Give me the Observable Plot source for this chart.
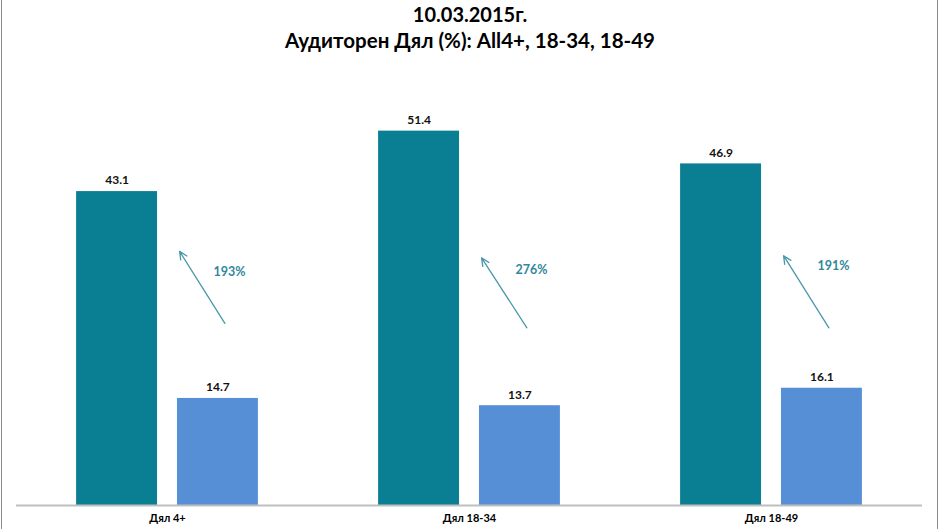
<!DOCTYPE html>
<html>
<head>
<meta charset="utf-8">
<script src="https://cdn.jsdelivr.net/npm/d3@7"></script>
<script src="https://cdn.jsdelivr.net/npm/@observablehq/plot@0.6"></script>
<style>
  html, body { margin: 0; padding: 0; background: #fff; }
  #wrap { position: relative; width: 940px; height: 529px; overflow: hidden; font-family: Lato, "Open Sans", sans-serif; }
  #title { position: absolute; left: 0; top: 0; width: 940px; height: 60px; text-align: center; font-weight: bold; color: #000; }
  #title .l1 { position: absolute; left: 0; right: 0; top: 2px; font-size: 20px; line-height: 24px; }
  #title .l2 { position: absolute; left: 0; right: 0; top: 28px; font-size: 20.5px; line-height: 24px; }
  #chart { position: absolute; left: 0; top: 60px; }
  .bl { position: absolute; top: 0; height: 529px; width: 1px; background: #8c8c8c; }
</style>
</head>
<body>
<div id="wrap">
  <div class="bl" style="left:1px"></div>
  <div class="bl" style="left:937px"></div>
  <div id="title"><div class="l1">10.03.2015г.</div><div class="l2">Аудиторен Дял (%): All4+, 18-34, 18-49</div></div>
  <div id="chart"></div>
</div>
<script>
const groups = ["Дял 4+", "Дял 18-34", "Дял 18-49"];
const seriesNames = ["Дял A", "Дял B"];
const valuesA = [43.1, 51.4, 46.9];
const valuesB = [14.7, 13.7, 16.1];
const changeLabels = ["193%", "276%", "191%"];
const arrowFrom = [25.0, 24.4, 24.4];
const arrowTo = [34.9, 34.0, 34.3];
const labelY = [32.0, 32.3, 32.9];

const offsets = [-0.167, 0.167];
const half = 0.134;
const rows = [];
groups.forEach((g, i) => {
  rows.push({g: i, series: seriesNames[0], off: offsets[0], value: valuesA[i]});
  rows.push({g: i, series: seriesNames[1], off: offsets[1], value: valuesB[i]});
});
const ann = groups.map((g, i) => ({g: i, from: arrowFrom[i], to: arrowTo[i], ly: labelY[i], label: changeLabels[i]}));

const plot = Plot.plot({
  width: 940,
  height: 469,
  marginTop: 8,
  marginBottom: 24,
  marginLeft: 16,
  marginRight: 18,
  style: {fontFamily: "Lato, 'Open Sans', sans-serif", background: "transparent"},
  x: {domain: [-0.5, 2.5], axis: null},
  y: {domain: [0, 60], axis: null},
  color: {domain: seriesNames, range: ["#0A7E92", "#578FD6"]},
  marks: [
    Plot.rectY(rows, {x1: d => d.g + d.off - half, x2: d => d.g + d.off + half, y: "value", fill: "series"}),
    Plot.ruleY([0], {stroke: "#bfbfbf", strokeWidth: 2}),
    Plot.text(rows, {x: d => d.g + d.off, y: "value", text: d => d.value.toFixed(1), dy: -11, fontWeight: "bold", fontSize: 12, fill: "#111"}),
    Plot.arrow(ann, {x1: d => d.g + 0.19, y1: "from", x2: d => d.g + 0.04, y2: "to", stroke: "#4A98AB", strokeWidth: 1.3, headLength: 10, headAngle: 50}),
    Plot.text(ann, {x: d => d.g + 0.205, y: "ly", text: "label", fill: "#31879C", fontWeight: "bold", fontSize: 12.5}),
    Plot.axisX({ticks: [0, 1, 2], tickFormat: i => groups[i], tickSize: 0, tickPadding: 9, fontWeight: "bold", fontSize: 11, fill: "#000"})
  ]
});
document.getElementById("chart").appendChild(plot);
</script>
</body>
</html>
